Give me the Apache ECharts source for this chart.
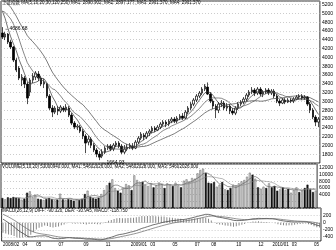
<!DOCTYPE html>
<html><head><meta charset="utf-8">
<script src="https://cdn.jsdelivr.net/npm/echarts@6/dist/echarts.min.js"></script>
<style>html,body{margin:0;padding:0;background:#fff}#c{width:336px;height:250px}</style>
</head><body><div id="c"></div>
<script>
const months = ['2008/02','2008/03','2008/04','2008/05','2008/06','2008/07','2008/08','2008/09','2008/10','2008/11','2008/12','2009/01','2009/02','2009/03','2009/04','2009/05','2009/06','2009/07','2009/08','2009/09','2009/10','2009/11','2009/12','2010/01','2010/02','2010/03','2010/04','2010/05'];
const weeksPerMonth = [3,4,5,4,4,5,4,4,4,4,5, 3,4,4,4,4,4,6,5,4,4,4,5, 4,3,4,4,3];
const shownMonths = ['2008/02','2008/04','2008/05','2008/07','2008/09','2008/11','2009/01','2009/03','2009/05','2009/07','2009/08','2009/10','2009/12','2010/01','2010/03','2010/05'];
const opens = [4552,4461,4529,4347,4234,3938,3756,3484,3529,3393,
3211,3484,3552,3620,3529,3393,3393,3120,2847,2756,
2824,2779,2847,2802,2847,2688,2506,2415,2415,2324,
2211,2074,2143,2006,1893,1802,1756,1847,1938,1983,
1915,2006,2052,1983,1847,1915,1961,1983,1938,2074,
2165,2234,2188,2279,2324,2393,2347,2415,2484,2529,
2484,2552,2597,2552,2620,2665,2620,2756,2847,2938,
3029,3120,3188,3279,3325,3165,3006,2893,2802,2938,
2961,2847,2893,2779,2734,2847,2938,2984,3052,3143,
3211,3257,3188,3279,3165,3211,3257,3188,3234,3120,
3006,2961,3029,2984,3029,3006,3052,3097,3120,3074,
3097,2938,2802,2643,2529];
const closes = [4461,4529,4347,4234,3938,3711,3529,3552,3393,3074,
3484,3575,3643,3529,3393,3438,3120,2847,2756,2847,
2779,2870,2802,2870,2688,2506,2415,2438,2324,2211,
2052,2143,2006,1893,1802,1733,1847,1938,1983,1915,
2006,2052,1983,1847,1915,1961,2006,1938,2074,2165,
2256,2188,2279,2324,2393,2347,2415,2484,2529,2484,
2552,2597,2552,2620,2665,2620,2756,2847,2938,3029,
3120,3188,3279,3347,3165,3006,2893,2802,2938,2961,
2847,2893,2779,2734,2847,2938,2984,3052,3143,3211,
3257,3188,3279,3165,3211,3257,3188,3234,3120,3006,
2961,3029,2984,3029,3006,3052,3097,3120,3074,3097,
2938,2802,2643,2529,2597];
const highs = [4686.68,4575,4552,4393,4256,3984,3802,3620,3575,3438,
3529,3643,3688,3688,3575,3506,3415,3165,2915,2893,
2893,2915,2893,2938,2893,2734,2552,2484,2461,2370,
2256,2211,2188,2052,1938,1870,1915,1983,2029,2029,
2052,2097,2097,2029,2006,2029,2052,2052,2120,2211,
2302,2279,2324,2370,2438,2438,2461,2529,2574,2574,
2597,2643,2643,2665,2711,2734,2802,2893,2984,3074,
3165,3234,3325,3393,3430,3211,3052,2938,2984,3029,
3006,2961,2938,2847,2893,2984,3029,3097,3188,3257,
3325,3302,3325,3325,3257,3302,3302,3279,3279,3165,
3052,3074,3074,3074,3074,3097,3143,3165,3165,3143,
3120,2984,2847,2688,2643];
const lows = [4416,4393,4302,4188,3893,3665,3484,3347,3302,2938,
3120,3415,3484,3461,3347,3302,3074,2802,2643,2711,
2688,2734,2756,2756,2643,2461,2370,2347,2279,2143,
1824,2006,1938,1847,1733,1664.93,1711,1802,1893,1870,
1870,1961,1938,1802,1802,1870,1915,1893,1915,2029,
2120,2120,2143,2211,2279,2302,2324,2370,2438,2415,
2438,2506,2506,2506,2574,2574,2597,2711,2802,2893,
2984,3074,3143,3234,3143,2961,2824,2620,2734,2870,
2802,2779,2711,2688,2688,2802,2893,2938,3006,3097,
3165,3120,3143,3120,3097,3165,3143,3143,3074,2961,
2893,2938,2938,2961,2961,2961,3029,3052,3029,3029,
2893,2734,2597,2438,2415];
const volumes = [3000,2600,3200,3000,3300,3100,2900,2500,2800,4600,
5000,3200,3800,2800,2600,2400,2700,3000,2600,2300,
2500,4300,2600,2400,2700,2500,2200,2600,2400,2800,
4200,5200,3400,3000,2800,3100,4200,5400,6800,7600,
8600,6000,5200,4600,6000,7200,6800,5400,9800,8400,
7600,7800,7000,6600,7400,6200,6800,7600,7200,6000,
7400,7000,6600,7600,6800,6200,8200,8600,8000,9000,
8800,10400,11400,11800,10500,7600,7400,7800,6400,7000,
7800,5600,5400,6000,7000,6800,7400,8000,8400,9400,
10600,10000,8800,6200,5800,6400,6000,7400,6200,6600,
5200,5600,6200,5400,5800,4600,5400,6200,4800,5200,
6000,7000,5600,4800,5200];
// weekly closes before the first drawn week, used only to warm up MA / MACD
const priorCloses = [2715,2820,2831,2882,2612,2730,2998,2881,2937,2893,3074,3183,3323,3445,3584,3841,4022,4030,4181,3670,3913,4152,4091,3820,3615,3915,4058,4345,4560,4749,4656,5107,5219,5293,5322,5454,5552,5914,5819,5955,5777,5316,5368,4984,4871,5091,4978,5101,5261,5361,5484,5180,4761];

const cats = [];
months.forEach((m, k) => { for (let j = 0; j < weeksPerMonth[k]; j++) cats.push(m + '#' + j); });
const N = closes.length;
const all = priorCloses.concat(closes);
const P = priorCloses.length;
function ma(n) {
  const out = [];
  for (let i = 0; i < N; i++) {
    const e = i + P; if (e - n + 1 < 0) { out.push('-'); continue; }
    let s = 0; for (let k = e - n + 1; k <= e; k++) s += all[k];
    out.push(+(s / n).toFixed(2));
  }
  return out;
}
function vma(n) {
  const out = [];
  for (let i = 0; i < N; i++) {
    if (i - n + 1 < 0) { out.push('-'); continue; }
    let s = 0; for (let k = i - n + 1; k <= i; k++) s += volumes[k];
    out.push(s / n);
  }
  return out;
}
function ema(arr, n) { const a = 2 / (n + 1); const o = [arr[0]]; for (let i = 1; i < arr.length; i++) o.push(a * arr[i] + (1 - a) * o[i - 1]); return o; }
const e12 = ema(all, 12), e26 = ema(all, 26);
const diffAll = all.map((v, i) => e12[i] - e26[i]);
const deaAll = ema(diffAll, 9);
const diff = diffAll.slice(P), dea = deaAll.slice(P);
const hist = diff.map((d, i) => 2 * (d - dea[i]));

const kData = closes.map((c, i) => [opens[i], c, lows[i], highs[i]]);
const volData = volumes.map((v, i) => ({ value: v, itemStyle: { color: closes[i] >= opens[i] ? '#d0d0d0' : '#111', borderColor: closes[i] >= opens[i] ? '#666' : '#111', borderWidth: 0.5 } }));

const font = 'Liberation Sans, DejaVu Sans, Noto Sans CJK SC, sans-serif';
const gridLine = { show: true, lineStyle: { color: '#aaa', type: [1, 2], width: 0.6 } };
const plain = v => String(Math.round(v));

const chart = echarts.init(document.getElementById('c'));
const xBase = { type: 'category', data: cats, boundaryGap: true, axisTick: { show: false }, axisLine: { show: false }, splitLine: { show: false } };
chart.setOption({
  animation: false,
  backgroundColor: '#fff',
  textStyle: { fontFamily: font },
  grid: [
    { left: 1, right: 14, top: 1, height: 162, show: true, borderColor: '#000', borderWidth: 0.8 },
    { left: 1, right: 14, top: 164, height: 44, show: true, borderColor: '#000', borderWidth: 0.8 },
    { left: 1, right: 14, top: 208, height: 33, show: true, borderColor: '#000', borderWidth: 0.8 }
  ],
  xAxis: [
    Object.assign({}, xBase, { gridIndex: 0, axisLabel: { show: false } }),
    Object.assign({}, xBase, { gridIndex: 1, axisLabel: { show: false } }),
    Object.assign({}, xBase, { gridIndex: 2, axisLabel: {
      show: true, fontSize: 4.5, color: '#000', margin: 2, align: 'left',
      interval: (idx, v) => { const [m, j] = v.split('#'); return j === '0' && shownMonths.indexOf(m) >= 0; },
      formatter: v => { const m = v.split('#')[0]; return (m === months[0] || m.endsWith('/01')) ? m : m.slice(5); }
    } })
  ],
  yAxis: [
    { type: 'value', gridIndex: 0, position: 'right', min: 1600, max: 5280, interval: 200,
      axisLine: { show: false }, axisTick: { show: false }, splitLine: gridLine,
      axisLabel: { fontSize: 5, color: '#000', margin: 2, showMinLabel: false, showMaxLabel: false, formatter: plain } },
    { type: 'value', gridIndex: 1, position: 'right', min: 0, max: 13200, interval: 2000,
      axisLine: { show: false }, axisTick: { show: false }, splitLine: gridLine,
      axisLabel: { fontSize: 5, color: '#000', margin: 2, showMinLabel: false, showMaxLabel: false, formatter: v => v < 4000 ? '' : plain(v) } },
    { type: 'value', gridIndex: 2, position: 'right', min: -520, max: 420, splitNumber: 4,
      axisLine: { show: false }, axisTick: { show: false }, splitLine: gridLine,
      axisLabel: { fontSize: 5, color: '#000', margin: 2, showMinLabel: false, showMaxLabel: false, formatter: v => v > 300 ? '' : plain(v) } }
  ],
  graphic: [
    { type: 'text', left: 2, top: 1, style: { text: '上证指数 MA(5,10,20,30,120,250) MA1: 2898.902, MA2: 2897.177, MA3: 2961.570, MA4: 2961.570', font: '4.5px ' + font, fill: '#000' } },
    { type: 'text', left: 2, top: 165, style: { text: 'VOLUME(5,10,20) 53000940.000, MA1: 54602026.000, MA2: 54602028.000, MA3: 54602026.000', font: '4.5px ' + font, fill: '#000' } },
    { type: 'text', left: 2, top: 209, style: { text: 'MACD(26,12,9) DIFF: -90.320, DEA: -30.945, MACD: -118.750', font: '4.5px ' + font, fill: '#000' } }
  ],
  series: [
    { type: 'candlestick', xAxisIndex: 0, yAxisIndex: 0, data: kData, barWidth: '72%',
      itemStyle: { color: '#fff', color0: '#000', borderColor: '#000', borderColor0: '#000', borderWidth: 0.7 },
      markPoint: { symbol: 'circle', symbolSize: 0, data: [
        { type: 'max', valueDim: 'highest', label: { show: true, position: 'right', distance: 2, offset: [0, 2], fontSize: 5, color: '#000', formatter: p => '←' + (+p.value).toFixed(2) } },
        { type: 'min', valueDim: 'lowest', label: { show: true, position: 'right', distance: 2, offset: [0, 2], fontSize: 5, color: '#000', formatter: p => '←' + (+p.value).toFixed(2) } }
      ] } },
    { type: 'line', xAxisIndex: 0, yAxisIndex: 0, data: ma(5), symbol: 'none', lineStyle: { width: 0.7, color: '#333' } },
    { type: 'line', xAxisIndex: 0, yAxisIndex: 0, data: ma(10), symbol: 'none', lineStyle: { width: 0.7, color: '#555' } },
    { type: 'line', xAxisIndex: 0, yAxisIndex: 0, data: ma(20), symbol: 'none', lineStyle: { width: 0.7, color: '#444' } },
    { type: 'bar', xAxisIndex: 1, yAxisIndex: 1, data: volData, barWidth: '72%' },
    { type: 'line', xAxisIndex: 1, yAxisIndex: 1, data: vma(5), symbol: 'none', lineStyle: { width: 0.6, color: '#555' } },
    { type: 'line', xAxisIndex: 1, yAxisIndex: 1, data: vma(10), symbol: 'none', lineStyle: { width: 0.6, color: '#888' } },
    { type: 'bar', xAxisIndex: 2, yAxisIndex: 2, data: hist, barWidth: 0.6, itemStyle: { color: '#888' } },
    { type: 'line', xAxisIndex: 2, yAxisIndex: 2, data: diff, symbol: 'none', lineStyle: { width: 0.7, color: '#333' } },
    { type: 'line', xAxisIndex: 2, yAxisIndex: 2, data: dea, symbol: 'none', lineStyle: { width: 0.7, color: '#666' } }
  ]
});
</script></body></html>
